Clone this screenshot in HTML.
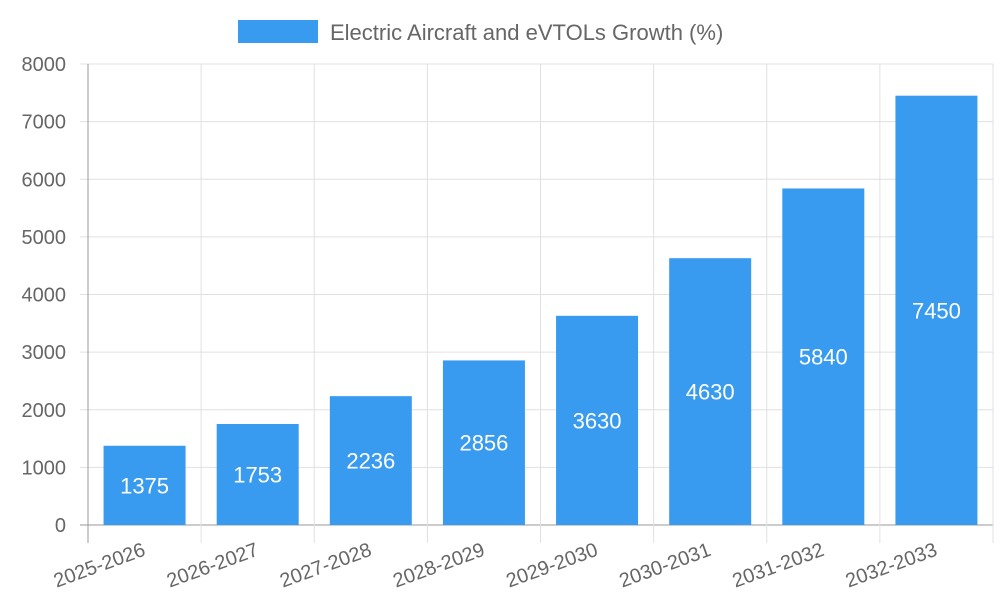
<!DOCTYPE html>
<html><head><meta charset="utf-8"><style>
body{margin:0;background:#fff;}
svg text{font-family:"Liberation Sans",sans-serif;}
</style></head><body>
<svg id="c" width="1000" height="600">
<g>
<rect x="238" y="20" width="80" height="23" fill="#389bef"/>
<text x="330" y="40" font-size="22" fill="#666">Electric Aircraft and eVTOLs Growth (%)</text>
</g>
</svg>
<script>
const categories=["2025-2026","2026-2027","2027-2028","2028-2029","2029-2030","2030-2031","2031-2032","2032-2033"];
const values=[1375,1753,2236,2856,3630,4630,5840,7450];
const yTicks=[0,1000,2000,3000,4000,5000,6000,7000,8000];
const svg=document.getElementById('c');
const NS='http://www.w3.org/2000/svg';
const L=88,R=993,T=64,B=525,yMax=8000;
const bw=(R-L)/categories.length;
const y=v=>B-(v/yMax)*(B-T);
const x=i=>L+i*bw;
function mk(t,a){const e=document.createElementNS(NS,t);for(const k in a)e.setAttribute(k,a[k]);svg.appendChild(e);return e;}
yTicks.forEach(t=>{
 const g=mk('line',{x1:L-8,x2:R,y1:y(t),y2:y(t),stroke:t===0?'#999':'#e0e0e0','stroke-width':1});
 
 
 const tx=mk('text',{x:L-22,y:y(t)+7,'font-size':20,fill:'#666','text-anchor':'end'});
 tx.textContent=t;
 
 
});
for(let i=0;i<=categories.length;i++){
 const g=mk('line',{x1:x(i),x2:x(i),y1:T,y2:B+18,stroke:i===0?'#999':'#e0e0e0','stroke-width':1});
 
 
}
categories.forEach((c,i)=>{
 const cx=x(i)+bw/2, w=82;
 const r=mk('rect',{x:cx-w/2,y:y(values[i]),width:w,height:B-y(values[i]),fill:'#389bef'});
 
 
 const v=mk('text',{x:cx,y:(y(values[i])+B)/2+8,'font-size':22,fill:'#fff','text-anchor':'middle'});
 v.textContent=values[i];
 
 
 const lx=cx+2, ly=B+30;
 const t=mk('text',{x:lx,y:ly,'font-size':20,fill:'#666','text-anchor':'end',transform:`rotate(-20 ${lx} ${ly})`});
 t.textContent=c;
 
 
});
</script>
</body></html>
